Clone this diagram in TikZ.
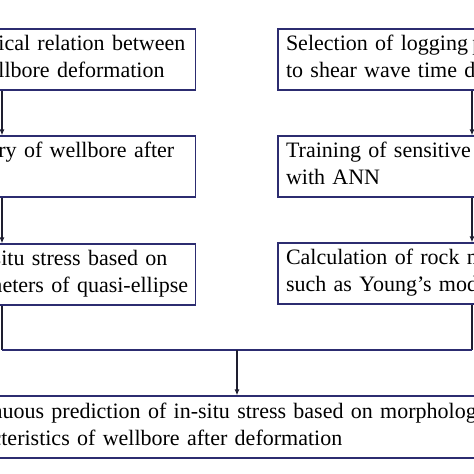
\documentclass[tikz,border=0pt]{standalone}
\usepackage{fontspec}
\setmainfont{Liberation Serif}
\usetikzlibrary{arrows.meta}

\definecolor{boxline}{RGB}{44,44,112}
\definecolor{arrowline}{RGB}{30,30,48}
\newcommand\lstrut{\rule[-6pt]{0pt}{20pt}}

\tikzset{
  box/.style={shape=rectangle,draw=boxline,line width=1.2pt,align=left,inner xsep=8pt,inner ysep=0pt,font=\fontsize{22}{26.5}\selectfont},
  flow/.style={draw=arrowline,line width=1.2pt,-{Latex[length=6pt,width=5pt]}},
  drop/.style={draw=arrowline,line width=1.2pt},
  link/.style={draw=boxline,line width=1.2pt},
}

\begin{document}
\begin{tikzpicture}[x=1pt,y=-1pt]
\useasboundingbox (0,0) rectangle (474,474);
\clip (0,0) rectangle (474,474);
\coordinate (lc) at (2,0);
\coordinate (join) at (237,350);

\node[box,text width=189pt,minimum height=61pt,anchor=east] (0) at (196,59.5) {\lstrut ical relation between\\\lstrut llbore deformation};
\node[box,text width=189pt,minimum height=61pt,anchor=east] (1) at (196,166.5) {\lstrut ry of wellbore after\\\lstrut};
\node[box,text width=202pt,minimum height=61pt,anchor=east] (2) at (196,274.5) {\lstrut\mbox{-situ stress based on}\\\lstrut\mbox{meters of quasi-ellipse}};
\node[box,text width=372pt,minimum height=61pt] (3) at (472,59.5) {\lstrut Selection of logging\hspace{-3pt} p\\\lstrut to shear wave time di};
\node[box,text width=372pt,minimum height=61pt] (4) at (472,166.5) {\lstrut Training of sensitive\\\lstrut with ANN};
\node[box,text width=372pt,minimum height=61pt] (5) at (472,273.5) {\lstrut Calculation of rock m\\\lstrut such as Young’s mod};
\node[box,text width=720pt,minimum height=62pt,anchor=west] (6) at (-17,427) {\lstrut nuous prediction of in-situ stress based on morphologi\\\lstrut cteristics of wellbore after deformation};

\path [flow] (0.south -| lc) -- (1.north -| lc);
\path [flow] (1.south -| lc) -- (2.north -| lc);
\path [flow] (3) edge (4);
\path [flow] (4) edge (5);
\path [drop] (2.south -| lc) -- (lc |- join);
\path [drop] (5.south) -- (5.south |- join);
\path [link] (lc |- join) -- (join -| 5.south);
\path [flow] (join) -- (join |- 6.north);
\end{tikzpicture}
\end{document}
